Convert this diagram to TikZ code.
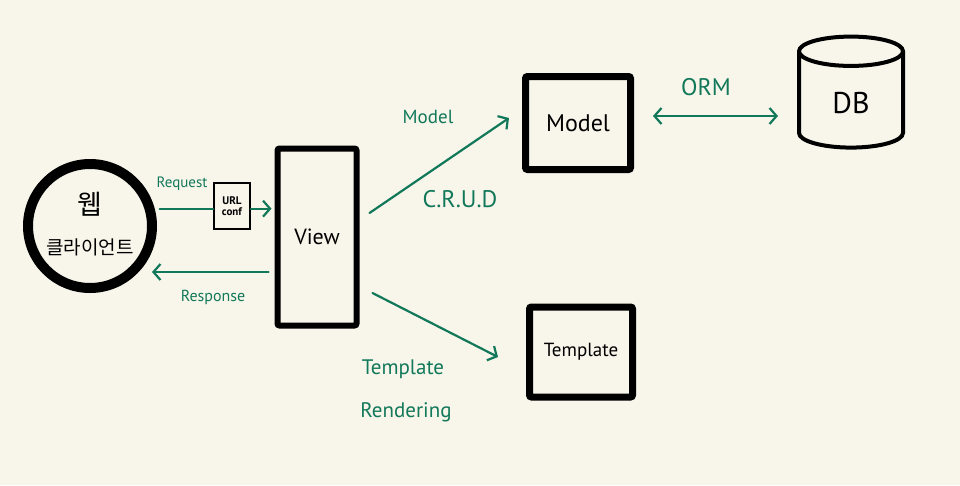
\documentclass[tikz,border=0pt]{standalone}
\usepackage{fontspec}
\setmainfont{PT Sans}
\newfontfamily\kofont{Noto Sans CJK KR}
\usepackage{tikz}
\usetikzlibrary{arrows.meta,shapes.geometric}
\definecolor{paper}{RGB}{248,246,235}
\definecolor{pen}{RGB}{18,120,90}
\tikzset{
  box/.style={draw,line width=7pt,rounded corners=2pt,font=\fontsize{22}{24}\selectfont},
  flow/.style={draw=pen,line width=2.2pt,line cap=round,-{Straight Barb[length=7pt,width=16pt]}},
  lbl/.style={text=pen,font=\fontsize{18}{20}\selectfont}
}
\newcommand{\fs}[1]{\fontsize{#1}{#1}\selectfont}

\begin{document}
\begin{tikzpicture}[x=1pt,y=-1pt]
  \fill[paper] (0,0) rectangle (960,485);
  \useasboundingbox (0,0) rectangle (960,485);
  % nodes
  \node[circle,draw,line width=10pt,minimum size=124pt,
        label={[align=center,font=\kofont\fontsize{19}{40}\selectfont,yshift=2pt]center:{\fs{27}웹}\\클라이언트}]
        (client) at (90,226) {};
  \node[box,line width=6pt,minimum width=79pt,minimum height=177pt] (view) at (317,237) {View};
  \node[draw,line width=1.8pt,minimum width=36pt,minimum height=46pt,inner sep=1pt,
        align=center,font=\bfseries\fs{11}] (urlconf) at (232,206) {URL\\conf};
  \node[box,minimum width=105pt,minimum height=93pt,font=\fs{24}] (model) at (578,123) {Model};
  \node[box,minimum width=103pt,minimum height=90pt,font=\fs{19}] (template) at (581,352) {Template};
  \node[cylinder,draw,line width=4pt,shape border rotate=90,aspect=0.67,
        minimum width=104pt,minimum height=111pt,font=\fs{30}] (db) at (851,103) {DB};
  % connectors
  \draw[flow,-,shorten <=5pt] (client.15) -- (client.15 -| urlconf.west);
  \draw[flow,shorten >=3pt] (urlconf.east |- client.15) -- (client.15 -| view.west);
  \draw[flow] ([yshift=-35pt]view.west) ++(-6,0) -- ([yshift=-35pt,xshift=-5pt]view.west -| client.east);
  \draw[flow] ([shift={(10,-24)}]view.east) -- ([shift={(-13,-5)}]model.west);
  \draw[flow] ([shift={(13,56)}]view.east) -- ([shift={(-28,5)}]template.west);
  \draw[flow,{Straight Barb[length=7pt,width=16pt]}-{Straight Barb[length=7pt,width=16pt]}]
    ([shift={(19,-7)}]model.east) -- ([shift={(-19,-7)}]db.west |- model.east);
  % labels
  \node[lbl,font=\fs{15}] (req) at (182,184) {Request};
  \node[lbl,font=\fs{16}] (resp) at (213,297) {Response};
  \node[lbl,font=\fs{19}] (mlbl) at (428,117) {Model};
  \node[lbl,font=\fs{24}] (crud) at (460,199) {C.R.U.D};
  \node[lbl,font=\fs{24}] (orm) at (706,87) {ORM};
  \node[lbl,font=\fs{21}] (tlbl) at (403,369) {Template};
  \node[lbl,font=\fs{21}] (rlbl) at (406,412) {Rendering};
\end{tikzpicture}
\end{document}
